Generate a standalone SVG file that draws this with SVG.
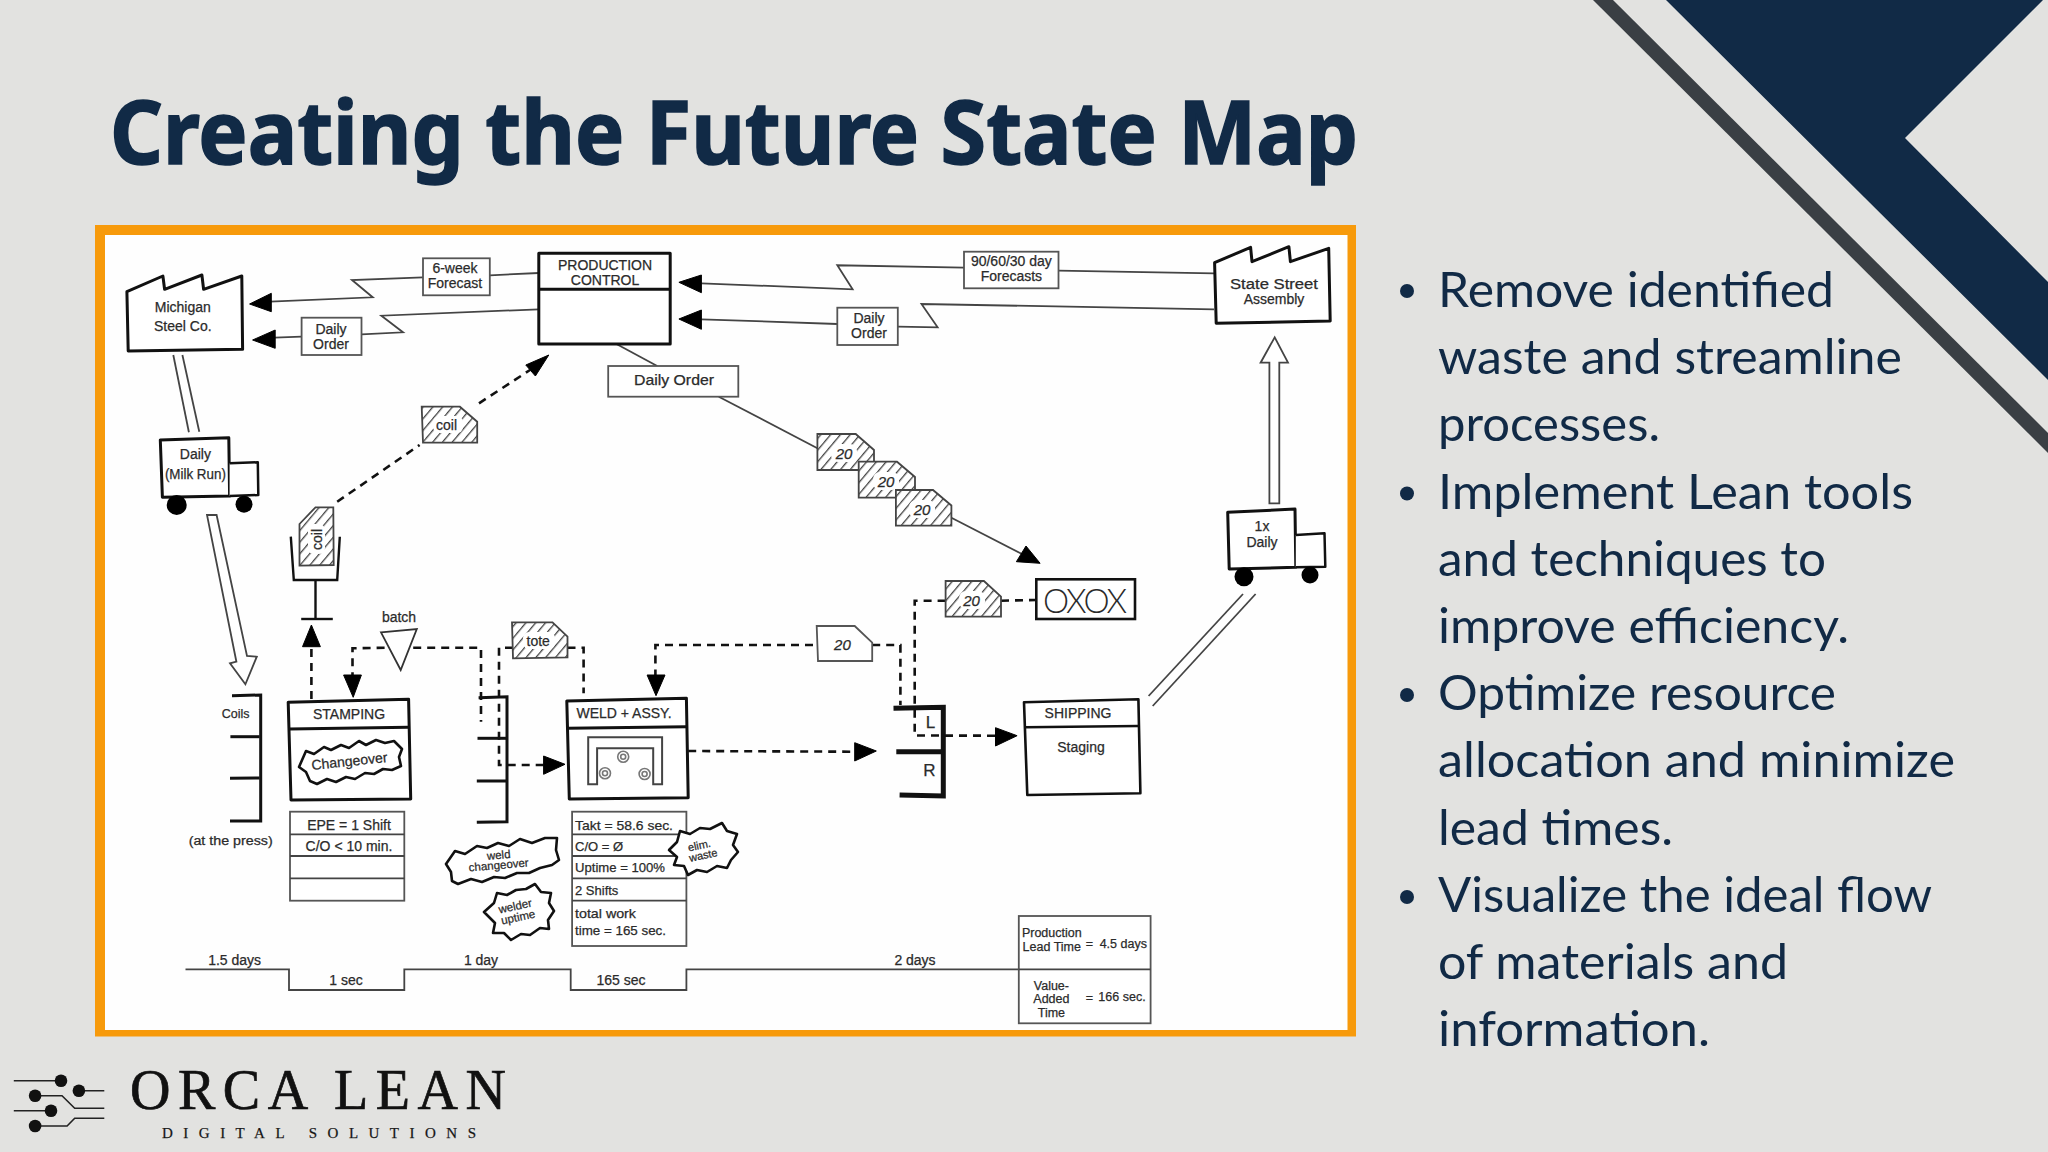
<svg xmlns="http://www.w3.org/2000/svg" width="2048" height="1152" viewBox="0 0 2048 1152">
<defs>
<style>
text{font-family:"Liberation Sans",Arial,sans-serif;fill:#2b2b2b;text-anchor:middle;font-size:14px;stroke:#2b2b2b;stroke-width:.25}
.bul{font-family:Lato,"Open Sans",sans-serif;font-size:48px;fill:#112a46;stroke:none;text-anchor:start}
.ttl{font-family:"Noto Sans",Roboto,sans-serif;font-weight:700;font-size:88px;fill:#112a46;stroke:#112a46;stroke-width:1.6;text-anchor:start}
.l{text-anchor:start}
.s{font-size:12.5px}
.it{font-style:italic;font-size:15px}
.b{fill:#fff;stroke:#111;stroke-width:3;stroke-linejoin:round}
.t{fill:#fff;stroke:#555;stroke-width:1.8}
.ln{fill:none;stroke:#444;stroke-width:1.8;stroke-linejoin:miter}
.th{fill:none;stroke:#111;stroke-width:3}
.tk{fill:none;stroke:#111;stroke-width:5}
.d{fill:none;stroke:#111;stroke-width:2.6;stroke-dasharray:8 6}
.ar{fill:#000;stroke:#000;stroke-width:1;stroke-linejoin:round}
.ho{fill:#fff;stroke:#444;stroke-width:1.8}
.hz{fill:url(#hatch);stroke:#444;stroke-width:1.8}
.pa{fill:#fff;stroke:none}
.bs{fill:#fff;stroke:#111;stroke-width:2.6;stroke-linejoin:round}
.op{fill:none;stroke:#777;stroke-width:1.6}
.lg{fill:none;stroke:#222;stroke-width:1.6}
</style>
<pattern id="hatch" patternUnits="userSpaceOnUse" width="7.5" height="7.5" patternTransform="rotate(40)">
<rect width="7.5" height="7.5" fill="#fff"/>
<line x1="0" y1="0" x2="0" y2="7.5" stroke="#444" stroke-width="2.6"/>
</pattern>
</defs>
<rect width="2048" height="1152" fill="#e2e2e0"/>
<polygon points="1666,0 2043,0 1905,138 2048,282 2048,380" fill="#112a46"/>
<polygon points="1593,0 1613,0 2048,433 2048,453" fill="#3a3f44"/>
<text class="ttl" x="110" y="164" textLength="1248" lengthAdjust="spacingAndGlyphs">Creating the Future State Map</text>
<rect x="95" y="225" width="1261" height="811.500" fill="#f79a0b"/>
<rect x="105" y="235" width="1242.500" height="795" fill="#fefefe"/>

<g id="connectors">
<polyline class="ln" points="538.8,273 489.8,275.3"/>
<polyline class="ln" points="423,277.3 352,280 372.7,297.3 270,301.7"/>
<polygon class="ar" points="249.6,304 271.3,293.3 271.3,311.7"/>
<polyline class="ln" points="538.8,309.3 381.4,315.7 403,332.3 361.5,334.3"/>
<polyline class="ln" points="301.6,336.7 274.3,337.7"/>
<polygon class="ar" points="252.6,340 275.2,330 275.2,348.3"/>
<polyline class="ln" points="701.4,283.3 852.6,289.3 837.3,265.3 964,267.7"/>
<polyline class="ln" points="1058.5,270.7 1214,273.3"/>
<polygon class="ar" points="678.9,282.3 701.4,275 701.4,292.7"/>
<polyline class="ln" points="701.4,319.3 837.3,324"/>
<polyline class="ln" points="897.8,326.7 937.6,327.3 921.5,304 1214,309.3"/>
<polygon class="ar" points="678.9,319 701.4,310 701.4,329.3"/>
<polyline class="ln" points="616.9,344.3 657.2,366"/>
<polyline class="ln" points="718.8,396.7 817.4,448.3"/>
<polyline class="ln" points="951.4,517.7 1022,554"/>
<polygon class="ar" points="1040.1,563.3 1016.4,561.7 1026,546"/>
<line class="ln" x1="173.3" y1="355" x2="188.9" y2="432.3"/>
<line class="ln" x1="182.4" y1="355" x2="199.3" y2="431.7"/>
<polygon class="ho" points="207,515 216.6,515 247,656 256.8,656.7 245.4,684.3 230,663.3 236.4,661.7"/>
<polygon class="ho" points="1269.4,503.3 1269.4,362.7 1260.6,362.7 1274.7,337.3 1288,362.7 1279.3,362.7 1279.3,503.3"/>
<line class="ln" x1="1243" y1="594" x2="1148.6" y2="696"/>
<line class="ln" x1="1255.6" y1="594" x2="1152.7" y2="706"/>
<line class="d" x1="337.2" y1="501.7" x2="419.6" y2="445"/>
<line class="d" x1="479" y1="403.3" x2="530" y2="370"/>
<polygon class="ar" points="548.8,355 525.8,365 535.4,376"/>
<line class="d" x1="311.4" y1="699" x2="311.4" y2="646"/>
<polygon class="ar" points="311.4,625 302.5,646.7 320.4,646.7"/>
<polyline class="d" points="384.6,647.7 352.5,648.3 352.5,675"/>
<polygon class="ar" points="353.2,697.3 343.6,675 361.4,675"/>
<polyline class="d" points="413.2,647.7 481,647.7 481,721.7"/>
<polyline class="d" points="513,647.7 499,647.7 499,765 544,765"/>
<polygon class="ar" points="565,764.3 543.6,756 543.6,774.3"/>
<polyline class="d" points="567.5,647.7 583.6,647.7 583.6,693.3"/>
<polyline class="d" points="813,645 655.4,645 655.4,675"/>
<polygon class="ar" points="656,695.7 647.1,675 665,675"/>
<polyline class="d" points="872.2,645 900.4,645 900.4,705"/>
<polyline class="d" points="945.6,600.7 914.7,600.7 914.7,735.5 995,735.7"/>
<line class="d" x1="1001" y1="600.7" x2="1036.3" y2="600"/>
<polygon class="ar" points="1017.1,735.7 995.5,727.7 995.5,746"/>
<line class="d" x1="688.2" y1="751" x2="855" y2="751.7"/>
<polygon class="ar" points="876.3,751 854.7,742.7 854.7,761"/>
</g>

<g id="michigan-steel">
<polygon class="b" points="126.9,291.7 162.9,276 164.6,289.3 201.9,275 203.6,289.3 241.8,276 242.6,349.3 128.2,351"/>
<text x="182.8" y="311.5">Michigan</text><text x="182.8" y="331">Steel Co.</text>
</g>
<g id="state-street">
<polygon class="b" points="1214.6,262.7 1250.6,247.3 1252,261.7 1288.9,246.7 1290.4,261.7 1328.7,248.3 1330.2,321 1216.2,323.3"/>
<text x="1274" y="289" textLength="88" lengthAdjust="spacingAndGlyphs">State Street</text><text x="1274" y="304">Assembly</text>
</g>
<g id="production-control">
<rect class="b" x="538.8" y="253.3" width="131.4" height="90.7"/>
<line class="th" x1="538.8" y1="289.3" x2="670.2" y2="289.3"/>
<text x="605" y="270">PRODUCTION</text><text x="605" y="285">CONTROL</text>
</g>
<g id="forecast-6wk"><rect class="t" x="423" y="258.3" width="66.8" height="37"/><text x="455" y="273">6-week</text><text x="455" y="288">Forecast</text></g>
<g id="daily-order-a"><rect class="t" x="301.6" y="317.7" width="59.9" height="37.3"/><text x="331" y="333.5">Daily</text><text x="331" y="349">Order</text></g>
<g id="forecast-90"><rect class="t" x="964" y="251.7" width="94.5" height="36.6"/><text x="1011.4" y="266">90/60/30 day</text><text x="1011.4" y="280.5">Forecasts</text></g>
<g id="daily-order-b"><rect class="t" x="837.3" y="307.7" width="60.5" height="37.3"/><text x="869" y="323">Daily</text><text x="869" y="338">Order</text></g>
<g id="daily-order-c"><rect class="t" x="608.2" y="366" width="130.1" height="30.7"/><text x="674" y="385" textLength="80" lengthAdjust="spacingAndGlyphs">Daily Order</text></g>

<g id="truck-milk-run">
<polygon class="b" points="160.3,440 228.8,437.7 229.6,496 162.4,497.3"/>
<polyline class="b" style="stroke-width:2.5" points="229.6,463.3 257.8,462.3 258.3,495 229.6,496"/>
<circle cx="176.7" cy="505" r="10"/><circle cx="244" cy="504.3" r="8.5"/>
<text x="195.4" y="459">Daily</text><text x="195.4" y="479" textLength="61" lengthAdjust="spacingAndGlyphs">(Milk Run)</text>
</g>
<g id="truck-daily">
<polygon class="b" points="1227.7,512.3 1295,509 1295.8,567.3 1229.2,569"/>
<polyline class="b" style="stroke-width:2.5" points="1295.8,535 1324.5,533.3 1325.3,566.7 1295.8,567.3"/>
<circle cx="1244" cy="576.7" r="9.5"/><circle cx="1310" cy="575" r="8.5"/>
<text x="1262" y="531">1x</text><text x="1262" y="546.5">Daily</text>
</g>

<g id="kanban-coil">
<polygon class="hz" points="421.7,406.7 459.9,406.7 477.2,421.7 477.2,442.7 423,442.7"/>
<rect class="pa" x="433" y="416" width="30" height="17" rx="6"/><text x="446.5" y="429.5">coil</text>
</g>
<g id="kanban-post">
<polygon class="hz" points="299.5,524 315.5,507.3 333.3,507.3 333.7,565 299.5,565.7"/>
<rect class="pa" x="308" y="524" width="17" height="30" rx="6"/>
<text transform="translate(321.5,539.5) rotate(-90)">coil</text>
<polyline class="th" style="stroke-width:2.4" points="290.8,536.7 293.8,580 337.2,580 339.8,536.7"/>
<line class="th" style="stroke-width:2.4" x1="315.5" y1="581" x2="315.5" y2="618.3"/>
<line class="th" style="stroke-width:2.4" x1="301.2" y1="619" x2="332.8" y2="619"/>
</g>
<g id="kanban-20-a">
<polygon class="hz" points="817.4,434 855.7,434 874,450 874,470 817.4,470"/>
<rect class="pa" x="831" y="444" width="26" height="18" rx="7"/><text class="it" x="844" y="458.5">20</text>
</g>
<g id="kanban-20-b">
<polygon class="hz" points="858.7,461.7 897,461.7 915,477 915,497.7 858.7,497.7"/>
<rect class="pa" x="873" y="472" width="26" height="18" rx="7"/><text class="it" x="886" y="486.5">20</text>
</g>
<g id="kanban-20-c">
<polygon class="hz" points="895.9,490 933,490 951.4,505.5 951.4,525.7 895.9,525.7"/>
<rect class="pa" x="909" y="500" width="26" height="18" rx="7"/><text class="it" x="922" y="514.5">20</text>
</g>
<g id="kanban-20-d">
<polygon class="hz" points="945.6,581 983.9,581 1001,596.7 1001,616.7 945.6,616.7"/>
<rect class="pa" x="959" y="591" width="26" height="18" rx="7"/><text class="it" x="971.6" y="605.5">20</text>
</g>
<g id="oxox"><rect class="th" style="stroke-width:2.6;fill:#fff" x="1036.3" y="579.3" width="98.700" height="39.700"/>
<text x="1085" y="612.500" style="font-family:Lato,sans-serif;font-weight:300;font-size:33px;stroke:none" textLength="84" lengthAdjust="spacing">OXOX</text></g>
<g id="kanban-tote">
<polygon class="hz" points="512,622.3 552.5,622.3 567.5,636.7 567.5,657.3 513,658.3"/>
<rect class="pa" x="523" y="632" width="32" height="17" rx="6"/><text x="538.2" y="645.5">tote</text>
</g>
<g id="kanban-20-white">
<polygon class="t" points="816.7,626 854.7,626 872.2,642.7 872.2,661 818,661"/><text class="it" x="842.4" y="649.5">20</text>
</g>
<g id="batch"><text x="399" y="621.5">batch</text><polygon class="t" style="stroke:#333" points="381,632.3 416.8,629 400.7,670"/></g>

<g id="coils-supermarket">
<polyline class="th" points="232,695.7 260.7,695 260.7,821 230,821"/>
<line class="th" x1="230.4" y1="736.7" x2="259.6" y2="736.7"/><line class="th" x1="230" y1="778.3" x2="259.6" y2="778"/>
<text x="235.7" y="718" class="s">Coils</text><text x="230.7" y="844.5" class="s" textLength="84" lengthAdjust="spacingAndGlyphs">(at the press)</text>
</g>
<g id="stamping">
<polygon class="b" points="288.2,702.3 408.6,699.3 410.7,799 291,800"/>
<line class="th" x1="289.3" y1="729" x2="408.6" y2="727.3"/>
<text x="349" y="719">STAMPING</text>
<polygon class="bs" points="299,767 306,751 314,754 324,747 331,750 341,745 349,748 359,741 366,745 376,740 385,743 394,741 402,749 399,757 401,766 392,770 383,769 374,774 365,773 355,779 346,777 336,782 327,779 317,784 310,781 306,772"/>
<text transform="translate(350,766) rotate(-6)">Changeover</text>
</g>
<g id="stamping-table">
<rect class="t" x="290" y="811.7" width="114.3" height="89"/>
<path class="ln" d="M290 834.3H404.3M290 856H404.3M290 878.3H404.3"/>
<text x="349" y="829.5">EPE = 1 Shift</text><text x="349" y="851">C/O &lt; 10 min.</text>
</g>
<g id="mid-supermarket">
<polyline class="th" points="478.6,697.7 507,696.7 507,821.7 476.8,822.3"/>
<line class="th" x1="477.5" y1="738.3" x2="507" y2="738.3"/><line class="th" x1="476.8" y1="781" x2="507" y2="781"/>
</g>
<g id="weld-assy">
<polygon class="b" points="566.8,701 686.4,698.3 688.2,797.7 569.3,799"/>
<line class="th" x1="567.9" y1="728.3" x2="686.4" y2="726.7"/>
<text x="624" y="717.5">WELD + ASSY.</text>
<polygon class="ln" style="stroke-width:2" points="588.2,784.3 588.2,737.3 662.1,737.3 662.1,784.3 653.2,784.3 653.2,748.3 597.1,748.3 597.1,784.3"/>
<circle class="op" cx="623.2" cy="756.7" r="5.5"/><circle class="op" cx="623.2" cy="756.7" r="2.5"/>
<circle class="op" cx="605" cy="773.3" r="5.5"/><circle class="op" cx="605" cy="773.3" r="2.5"/>
<circle class="op" cx="644.6" cy="774" r="5.5"/><circle class="op" cx="644.6" cy="774" r="2.5"/>
</g>
<g id="weld-table">
<rect class="t" x="572.1" y="811.7" width="114.3" height="134.3"/>
<path class="ln" d="M572.1 834.3H686.4M572.1 856H686.4M572.1 878.3H686.4M572.1 900.7H686.4"/>
<text class="l" x="575" y="829.5" style="font-size:13px" textLength="98" lengthAdjust="spacingAndGlyphs">Takt = 58.6 sec.</text>
<text class="l" x="575" y="851" style="font-size:13px">C/O  =  Ø</text>
<text class="l" x="575" y="871.5" style="font-size:13px" textLength="90" lengthAdjust="spacingAndGlyphs">Uptime = 100%</text>
<text class="l" x="575" y="894.5" style="font-size:13px">2 Shifts</text>
<text class="l" x="575" y="918" style="font-size:13px" textLength="61" lengthAdjust="spacingAndGlyphs">total work</text>
<text class="l" x="575" y="934.5" style="font-size:13px" textLength="91" lengthAdjust="spacingAndGlyphs">time = 165 sec.</text>
</g>
<g id="burst-elim-waste">
<polygon class="bs" points="669,850 677,842 680,831 690,834 700,828 710,829 722,823 727,831 737,834 733,845 738,852 731,860 727,868 717,866 707,872 697,870 688,875 684,866 674,865 677,857"/>
<text transform="translate(700,849) rotate(-12)" style="font-size:11px">elim.</text>
<text transform="translate(704,859) rotate(-12)" style="font-size:11px">waste</text>
</g>
<g id="burst-weld-changeover">
<polygon class="bs" points="446,864 455,851 465,854 477,846 487,848 498,843 509,846 520,839 532,843 545,838 557,838 556,850 559,860 552,865 540,868 529,873 517,873 505,878 494,877 482,882 471,879 458,884 452,881 451,872"/>
<text transform="translate(499,859) rotate(-5)" style="font-size:11.5px">weld</text>
<text transform="translate(499,869) rotate(-5)" style="font-size:11.5px">changeover</text>
</g>
<g id="burst-welder-uptime">
<polygon class="bs" points="484,912 494,903 497,893 507,895 516,890 526,889 535,884 541,892 551,893 549,903 554,911 548,920 549,929 540,928 530,935 521,934 511,940 504,933 493,933 495,923"/>
<text transform="translate(516,910) rotate(-12)" style="font-size:11.5px">welder</text>
<text transform="translate(519,921) rotate(-12)" style="font-size:11.5px">uptime</text>
</g>
<g id="lr-supermarket">
<polyline class="tk" points="893.5,708.3 943.3,707.3 943.3,796 899.6,795"/>
<line class="tk" x1="896.3" y1="751.7" x2="943.3" y2="751.7"/>
<text x="930.6" y="728" style="font-size:17px">L</text><text x="929.4" y="776" style="font-size:17px">R</text>
</g>
<g id="shipping">
<polygon class="b" style="stroke-width:2.6" points="1024,702.3 1138.4,699.3 1140.4,793.3 1027.3,795"/>
<line class="th" style="stroke-width:2.6" x1="1025.3" y1="727.3" x2="1138.4" y2="726"/>
<text x="1078" y="718">SHIPPING</text><text x="1081" y="751.5">Staging</text>
</g>
<g id="timeline">
<polyline class="ln" points="185.5,969.3 289,969.3 289,990 404.3,990 404.3,969.3 570.7,969.3 570.7,990 686.4,990 686.4,969.3 1019,969.3"/>
<text x="234.6" y="964.5">1.5 days</text><text x="346" y="985">1 sec</text><text x="481" y="964.5">1 day</text><text x="621" y="985">165 sec</text><text x="915" y="964.5">2 days</text>
</g>
<g id="summary">
<rect class="t" x="1018.8" y="916" width="131.8" height="107.3"/>
<line class="ln" x1="1018.8" y1="969.3" x2="1150.6" y2="969.3"/>
<text class="s" x="1051.8" y="937">Production</text><text class="s" x="1051.8" y="951">Lead Time</text><text class="s" x="1089.4" y="948">=</text><text class="s" x="1123.3" y="947.5">4.5 days</text>
<text class="s" x="1051.4" y="989.5">Value-</text><text class="s" x="1051.4" y="1003">Added</text><text class="s" x="1051.4" y="1017">Time</text><text class="s" x="1089.4" y="1001.5">=</text><text class="s" x="1122" y="1001">166 sec.</text>
</g>

<g id="bullets">
<circle cx="1407" cy="291" r="7" fill="#112a46"/><circle cx="1407" cy="493.500" r="7" fill="#112a46"/><circle cx="1407" cy="695" r="7" fill="#112a46"/><circle cx="1407" cy="897" r="7" fill="#112a46"/>
<text class="bul" x="1438" y="307" textLength="396" lengthAdjust="spacingAndGlyphs">Remove identified</text>
<text class="bul" x="1438" y="374.2" textLength="464" lengthAdjust="spacingAndGlyphs">waste and streamline</text>
<text class="bul" x="1438" y="441.4" textLength="222" lengthAdjust="spacingAndGlyphs">processes.</text>
<text class="bul" x="1438" y="508.6" textLength="475" lengthAdjust="spacingAndGlyphs">Implement Lean tools</text>
<text class="bul" x="1438" y="575.8" textLength="388" lengthAdjust="spacingAndGlyphs">and techniques to</text>
<text class="bul" x="1438" y="643" textLength="411" lengthAdjust="spacingAndGlyphs">improve efficiency.</text>
<text class="bul" x="1438" y="710.2" textLength="398" lengthAdjust="spacingAndGlyphs">Optimize resource</text>
<text class="bul" x="1438" y="777.4" textLength="517" lengthAdjust="spacingAndGlyphs">allocation and minimize</text>
<text class="bul" x="1438" y="844.6" textLength="235" lengthAdjust="spacingAndGlyphs">lead times.</text>
<text class="bul" x="1438" y="911.8" textLength="494" lengthAdjust="spacingAndGlyphs">Visualize the ideal flow</text>
<text class="bul" x="1438" y="979" textLength="350" lengthAdjust="spacingAndGlyphs">of materials and</text>
<text class="bul" x="1438" y="1046.2" textLength="272" lengthAdjust="spacingAndGlyphs">information.</text>
</g>
<g id="logo">
<path class="lg" d="M13.8 1080.7H55M78.9 1090.7H104.3M35.1 1095.7H62L74.7 1108.3H104.3M13.8 1110.7H51M35.1 1126H67.1L74.7 1118.3H104.3"/>
<g fill="#111"><circle cx="61" cy="1080.7" r="6.3"/><circle cx="78.9" cy="1090.7" r="6.3"/><circle cx="35.1" cy="1095.7" r="6.3"/><circle cx="51" cy="1110.7" r="6.3"/><circle cx="35.1" cy="1126" r="6.3"/></g>
<text x="130" y="1109" style="font-family:'Liberation Serif',serif;font-size:56px;fill:#111;stroke:#111;stroke-width:.7;text-anchor:start" textLength="376" lengthAdjust="spacing">ORCA LEAN</text>
<text x="162" y="1138" style="font-family:'Liberation Serif',serif;font-size:15px;fill:#111;text-anchor:start" textLength="314" lengthAdjust="spacing">DIGITAL SOLUTIONS</text>
</g>
</svg>
